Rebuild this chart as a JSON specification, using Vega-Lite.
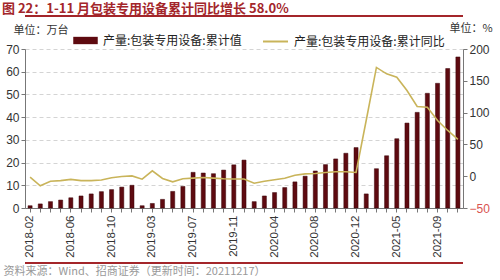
{
  "$schema": "https://vega.github.io/schema/vega-lite/v6.json",
  "width": 438,
  "height": 159,
  "autosize": {"type": "none"},
  "padding": {"left": 25, "top": 49, "right": 37, "bottom": 72},
  "background": "white",
  "title": {
    "text": "图 22：1-11 月包装专用设备累计同比增长 58.0%",
    "anchor": "start",
    "frame": "group",
    "dx": -23,
    "offset": -1,
    "font": "Noto Sans CJK SC",
    "fontSize": 13,
    "fontWeight": "bold",
    "color": "#a3262b"
  },
  "config": {"view": {"stroke": null}, "font": "Liberation Sans"},
  "data": {
    "values": [
      {"month": "2018-02", "output": 1.0, "growth": -1.5},
      {"month": "2018-03", "output": 1.8, "growth": -15},
      {"month": "2018-04", "output": 2.8, "growth": -8},
      {"month": "2018-05", "output": 3.5, "growth": -7},
      {"month": "2018-06", "output": 4.5, "growth": -5},
      {"month": "2018-07", "output": 5.3, "growth": -7},
      {"month": "2018-08", "output": 6.2, "growth": -7},
      {"month": "2018-09", "output": 7.2, "growth": -6},
      {"month": "2018-10", "output": 8.1, "growth": -2.5},
      {"month": "2018-11", "output": 9.2, "growth": -0.5},
      {"month": "2018-12", "output": 10.0, "growth": 0.5},
      {"month": "2019-02", "output": 1.0, "growth": -4.7},
      {"month": "2019-03", "output": 2.0, "growth": 8.5},
      {"month": "2019-04", "output": 3.8, "growth": -3.6},
      {"month": "2019-05", "output": 7.3, "growth": -8.8},
      {"month": "2019-06", "output": 9.5, "growth": -4},
      {"month": "2019-07", "output": 15.7, "growth": -3},
      {"month": "2019-08", "output": 15.4, "growth": -2},
      {"month": "2019-09", "output": 15.1, "growth": -3},
      {"month": "2019-10", "output": 16.7, "growth": -4},
      {"month": "2019-11", "output": 19.0, "growth": -4.5},
      {"month": "2019-12", "output": 21.1, "growth": -4.5},
      {"month": "2020-02", "output": 2.8, "growth": -11},
      {"month": "2020-03", "output": 5.3, "growth": -8},
      {"month": "2020-04", "output": 6.8, "growth": -5.7},
      {"month": "2020-05", "output": 9.0, "growth": -3.1},
      {"month": "2020-06", "output": 11.5, "growth": 1.6},
      {"month": "2020-07", "output": 14.0, "growth": 3.7},
      {"month": "2020-08", "output": 16.3, "growth": 4.2},
      {"month": "2020-09", "output": 19.1, "growth": 5.8},
      {"month": "2020-10", "output": 21.6, "growth": 6.9},
      {"month": "2020-11", "output": 24.1, "growth": 6.9},
      {"month": "2020-12", "output": 26.6, "growth": 5.8},
      {"month": "2021-02", "output": 6.2, "growth": 88},
      {"month": "2021-03", "output": 17.3, "growth": 171},
      {"month": "2021-04", "output": 23.0, "growth": 161},
      {"month": "2021-05", "output": 30.5, "growth": 155.7},
      {"month": "2021-06", "output": 37.4, "growth": 134.7},
      {"month": "2021-07", "output": 42.1, "growth": 109.6},
      {"month": "2021-08", "output": 50.5, "growth": 108.5},
      {"month": "2021-09", "output": 54.9, "growth": 87.6},
      {"month": "2021-10", "output": 61.4, "growth": 71.9},
      {"month": "2021-11", "output": 66.5, "growth": 58.0}
    ]
  },
  "layer": [
    {
      "mark": {"type": "bar", "stroke": "#3a0508", "strokeWidth": 0.5},
      "encoding": {
        "x": {
          "field": "month", "type": "ordinal", "sort": null,
          "scale": {"paddingInner": 0.6, "paddingOuter": 0.3},
          "axis": {
            "orient": "bottom", "title": null, "labelAngle": -90,
            "labelExpr": "indexof(['2018-02','2018-06','2018-10','2019-03','2019-07','2019-11','2020-04','2020-08','2020-12','2021-05','2021-09'], datum.value) >= 0 ? datum.value : ''",
            "labelFontSize": 11.5, "labelColor": "#333", "labelPadding": 3,
            "tickColor": "#777", "tickSize": 4, "domainColor": "#777", "grid": false
          }
        },
        "y": {
          "field": "output", "type": "quantitative",
          "scale": {"domain": [0, 70], "nice": false},
          "axis": {
            "values": [0, 10, 20, 30, 40, 50, 60, 70],
            "title": "单位：万台", "titleAngle": 0, "titleX": -12, "titleY": -19,
            "titleAlign": "left", "titleBaseline": "middle",
            "titleFont": "Noto Sans CJK SC", "titleFontSize": 11, "titleFontWeight": "normal", "titleColor": "#333",
            "labelFontSize": 12, "labelColor": "#333", "labelPadding": 2,
            "tickColor": "#777", "tickSize": 4, "domainColor": "#777",
            "grid": true, "gridDash": [4, 3], "gridColor": "#d4d4d4"
          }
        },
        "fill": {
          "datum": "产量:包装专用设备:累计值", "type": "nominal",
          "scale": {"range": ["#5e0a10"]},
          "legend": {
            "orient": "none", "legendX": 48, "legendY": -21, "title": null,
            "symbolType": "M-1,-0.3H1V0.3H-1Z", "symbolSize": 600, "symbolStrokeWidth": 0,
            "labelFont": "Noto Sans CJK SC", "labelFontSize": 12, "labelColor": "#222", "labelOffset": 5, "padding": 0
          }
        }
      }
    },
    {
      "mark": {"type": "line", "strokeWidth": 1.6},
      "encoding": {
        "x": {"field": "month", "type": "ordinal", "sort": null, "axis": null},
        "y": {
          "field": "growth", "type": "quantitative",
          "scale": {"domain": [-50, 200], "nice": false},
          "axis": {
            "orient": "right", "values": [-50, 0, 50, 100, 150, 200],
            "title": "单位：%", "titleAngle": 0, "titleX": -14, "titleY": -21,
            "titleAlign": "left", "titleBaseline": "middle",
            "titleFont": "Noto Sans CJK SC", "titleFontSize": 11, "titleFontWeight": "normal", "titleColor": "#333",
            "labelFontSize": 12, "labelPadding": 2,
            "labelColor": {"condition": {"test": "datum.value == -50", "value": "#d9534f"}, "value": "#333"},
            "tickColor": "#777", "tickSize": 4, "domainColor": "#777", "grid": false
          }
        },
        "stroke": {
          "datum": "产量:包装专用设备:累计同比", "type": "nominal",
          "scale": {"range": ["#c9b45a"]},
          "legend": {
            "orient": "none", "legendX": 237, "legendY": -21, "title": null,
            "symbolType": "stroke", "symbolSize": 625, "symbolStrokeWidth": 2,
            "labelFont": "Noto Sans CJK SC", "labelFontSize": 12, "labelColor": "#222", "labelOffset": 5, "padding": 0
          }
        }
      }
    },
    {
      "mark": {"type": "rule", "color": "#a3262b", "strokeWidth": 1.2},
      "encoding": {
        "y": {"datum": 252, "type": "quantitative", "scale": {"domain": [-50, 200], "nice": false, "zero": false}, "axis": null}
      }
    },
    {
      "mark": {"type": "rule", "color": "#a3262b", "strokeWidth": 1.2},
      "encoding": {
        "y": {"datum": -136.5, "type": "quantitative", "scale": {"domain": [-50, 200], "nice": false, "zero": false}, "axis": null}
      }
    },
    {
      "transform": [{"filter": "false"}],
      "mark": "point",
      "encoding": {
        "x": {
          "field": "month", "type": "ordinal", "sort": null,
          "axis": {
            "orient": "bottom", "offset": 55, "labels": false, "ticks": false, "grid": false, "domain": false,
            "title": "资料来源：Wind、招商证券（更新时间：20211217）",
            "titleAnchor": "start", "titleAlign": "left", "titleX": -22, "titleY": 8,
            "titleBaseline": "middle", "titleFont": "Noto Sans CJK SC", "titleFontSize": 11,
            "titleFontWeight": "normal", "titleColor": "#999"
          }
        }
      }
    }
  ],
  "resolve": {
    "scale": {"y": "independent", "fill": "independent", "stroke": "independent"},
    "axis": {"x": "independent", "y": "independent"},
    "legend": {"fill": "independent", "stroke": "independent"}
  }
}
